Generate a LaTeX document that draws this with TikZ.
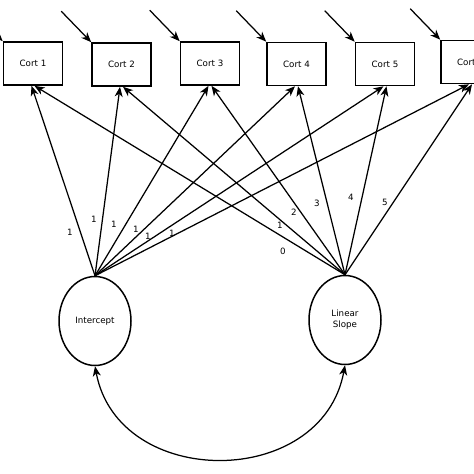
\documentclass[tikz,border=0pt]{standalone}
\usepackage{fontspec}
\setmainfont{DejaVu Sans}
\usetikzlibrary{arrows.meta,calc,shapes.geometric}
\begin{document}
\begin{tikzpicture}[x=1pt,y=-1pt,
  cortbox/.style={draw,line width=1.6pt,minimum width=59pt,minimum height=43pt,inner sep=0pt,font=\fontsize{8.7}{10}\selectfont},
  latent/.style={draw,ellipse,line width=1.5pt,minimum width=72pt,minimum height=89pt,inner sep=0pt,font=\fontsize{8.7}{11}\selectfont,align=center},
  arr/.style={line width=1.25pt,-{Stealth[length=10pt,width=8pt,inset=3pt]}},
  darr/.style={line width=1.25pt,{Stealth[length=10pt,width=8pt,inset=3pt]}-{Stealth[length=10pt,width=8pt,inset=3pt]}},
  lab/.style={font=\fontsize{8.7}{9}\selectfont,inner sep=0pt}]
\useasboundingbox (0,0) rectangle (474,474);
\clip (0,0) rectangle (474,474);
\fill[white] (0,0) rectangle (474,474);
% observed
\node[cortbox] (c1) at (33,63.5) {Cort 1};
\node[cortbox] (c2) at (121.5,64.5) {Cort 2};
\node[cortbox] (c3) at (210,63.5) {Cort 3};
\node[cortbox] (c4) at (296.5,64) {Cort 4};
\node[cortbox] (c5) at (385,64) {Cort 5};
\node[cortbox] (c6) at (470.5,62) {Cort 6};
% error arrows
\foreach \i in {1,...,6}{
  \coordinate (e\i) at ($(c\i.north west)+(-30,-31)$);
  \draw[arr] (e\i) -- (c\i.north west);
}
% latent
\node[latent] (int) at (95,321) {Intercept};
\node[latent] (slo) at (345,320) {Linear\\Slope};
% loadings
\foreach \i in {1,...,6}{
  \draw[arr] (int.north) -- ([xshift=-1.5pt]c\i.south);
  \draw[arr] (slo.north) -- ([xshift=1.5pt]c\i.south);
}
% labels intercept
\node[lab] (li1) at (70,232) {1};
\node[lab] (li2) at (94,219) {1};
\node[lab] (li3) at (114,224) {1};
\node[lab] (li4) at (136,229) {1};
\node[lab] (li5) at (148,236) {1};
\node[lab] (li6) at (172,233) {1};
% labels slope
\node[lab] (ls1) at (283,251) {0};
\node[lab] (ls2) at (280,225) {1};
\node[lab] (ls3) at (294,212) {2};
\node[lab] (ls4) at (317,203) {3};
\node[lab] (ls5) at (351,197) {4};
\node[lab] (ls6) at (385,202) {5};
% covariance
\draw[darr] (int.south) .. controls (118,490) and (322,490) .. (slo.south);
\end{tikzpicture}
\end{document}
